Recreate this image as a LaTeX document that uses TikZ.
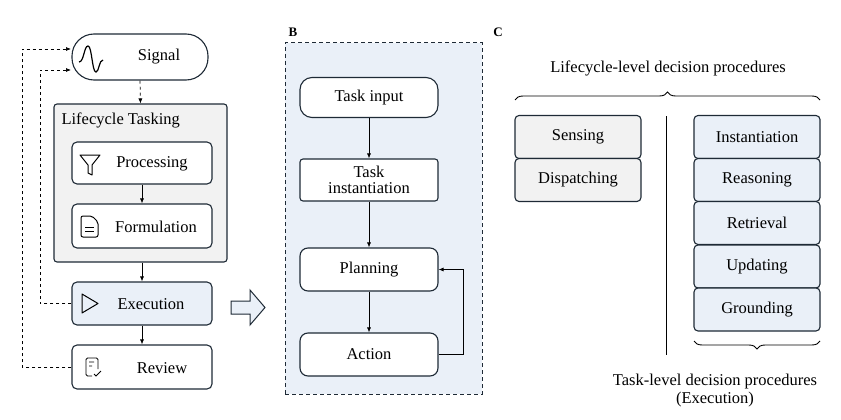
\documentclass[tikz,border=0pt]{standalone}
\usepackage{fontspec}
\setmainfont{Liberation Serif}
\usetikzlibrary{arrows.meta,decorations.pathreplacing}
\definecolor{bd}{HTML}{1E2A36}
\definecolor{gf}{HTML}{F2F2F2}
\definecolor{bf}{HTML}{EAF0F8}
\begin{document}
\begin{tikzpicture}[x=1pt,y=-1pt,font=\fontsize{16.5}{18}\selectfont,
 box/.style={draw=bd,line width=1.1pt,rounded corners=5pt,minimum height=43pt,inner sep=0pt},
 arr/.style={-{Latex[length=5pt,width=4pt]},line width=0.7pt},
 dsh/.style={dashed,line width=0.7pt}]
\useasboundingbox (0,0) rectangle (841,420);
% Panel A
\node[box,rounded corners=22pt,minimum width=136pt,minimum height=46pt,fill=white] (sig) at (140,57) {};
\node at (159,57) {Signal};
\draw[line width=1.2pt] (79,62) .. controls (84,62) and (84,46) .. (88,46) .. controls (92,46) and (92,72) .. (96,72) .. controls (99,72) and (99,60) .. (103,60);
\node[draw=bd,line width=1.1pt,rounded corners=3pt,fill=gf,minimum width=173pt,minimum height=158pt] (lc) at (140.5,183) {};
\node[anchor=west] (lct) at (58,120) {Lifecycle Tasking};
\node[box,fill=white,minimum width=140pt,minimum height=42pt] (proc) at (142,163) {};
\node at (152,164) (proct) {Processing};
\draw[line width=1pt,line join=round] (80,155) -- (100,155) -- (92,165) -- (92,175) -- (88,173) -- (88,165) -- cycle;
\node[box,fill=white,minimum width=140pt,minimum height=44pt] (form) at (142,226) {};
\node at (156,227) {Formulation};
\draw[line width=1pt,rounded corners=2pt] (81,216) -- (92,216) -- (98,222) -- (98,237) -- (81,237) -- cycle;
\draw[line width=1pt] (85,227) -- (94,227) (85,231) -- (94,231);
\node[box,fill=bf,minimum width=140pt,minimum height=43pt] (exe) at (142,303.5) {};
\node at (151,304) {Execution};
\draw[line width=1pt,line join=round] (82,294) -- (98,303.5) -- (82,313) -- cycle;
\node[box,fill=white,minimum width=140pt,minimum height=44pt] (rev) at (142,367) {};
\node at (162,368) {Review};
\draw[line width=0.9pt,rounded corners=1.5pt] (98,369) -- (98,358) -- (86,358) -- (86,376) -- (92,376);
\draw[line width=0.9pt] (89,362) -- (94,362) (89,366) -- (92,366) (94,374) -- (96,376) -- (101,371);
\draw[arr] (proc.south) -- (form.north);
\draw[arr] (lc.south) ++(1.5,0) -- (exe.north);
\draw[arr] (exe.south) -- (rev.north);
\draw[dsh,-{Latex[length=5pt,width=4pt]}] (sig.south) -- (lc.north);
\coordinate (s1) at (71,49); \coordinate (s2) at (71,70);
\draw[dsh,-{Latex[length=5pt,width=4pt]}] (rev.west) -| (22,49) -- (s1);
\draw[dsh,-{Latex[length=5pt,width=4pt]}] (exe.west) -| (40,70) -- (s2);
\draw[draw=bd,fill=bf,line width=1pt,line join=miter] (231,301) -- (250,301) -- (250,290) -- (265,307.5) -- (250,325) -- (250,314) -- (231,314) -- cycle;
% Panel B
\node[font=\fontsize{13}{14}\selectfont\bfseries] (lb) at (293,32) {B};
\node[draw=bd,dash pattern=on 4pt off 3pt,line width=1pt,fill=bf,minimum width=197pt,minimum height=351pt] (bb) at (383.5,218.5) {};
\node[box,rounded corners=12pt,fill=white,minimum width=138pt,minimum height=40pt] (ti) at (369,97.5) {Task input};
\node[box,rounded corners=3pt,fill=white,minimum width=138pt,minimum height=42pt,align=center] (tinst) at (369,180) {Task\\[-2pt]instantiation};
\node[box,rounded corners=8pt,fill=white,minimum width=138pt,minimum height=43pt] (pl) at (369,269.5) {Planning};
\node[box,rounded corners=8pt,fill=white,minimum width=138pt,minimum height=43pt] (ac) at (369,354.5) {Action};
\draw[arr] (ti) -- (tinst);
\draw[arr] (tinst) -- (pl);
\draw[arr] (pl) -- (ac);
\draw[arr] (ac.east) -- (463,354.5) |- (pl.east);
% Panel C
\node[font=\fontsize{13}{14}\selectfont\bfseries] (lcc) at (498,32) {C};
\node (lt) at (668,68) {Lifecycle-level decision procedures};
\draw[line width=0.9pt,decorate,decoration={brace,amplitude=8pt}] (515,100) -- (820,100);
\foreach \n/\t/\y in {sen/Sensing/137, dis/Dispatching/180}
  \node[box,rounded corners=4pt,fill=gf,minimum width=126pt,minimum height=43pt] (\n) at (578,\y) {\t};
\draw[line width=1pt] (666,116) -- (666,355);
\foreach \n/\t/\y in {ins/Instantiation/137, rea/Reasoning/180, ret/Retrieval/223, upd/Updating/266.5, gro/Grounding/309.5}
  \node[box,rounded corners=4pt,fill=bf,minimum width=126pt,minimum height=43pt] (\n) at (757,\y) {\t};
\draw[line width=0.9pt,decorate,decoration={brace,amplitude=8pt,mirror}] (694,341) -- (820,341);
\node[align=center] (bt) at (715,391) {Task-level decision procedures\\(Execution)};
\end{tikzpicture}
\end{document}
